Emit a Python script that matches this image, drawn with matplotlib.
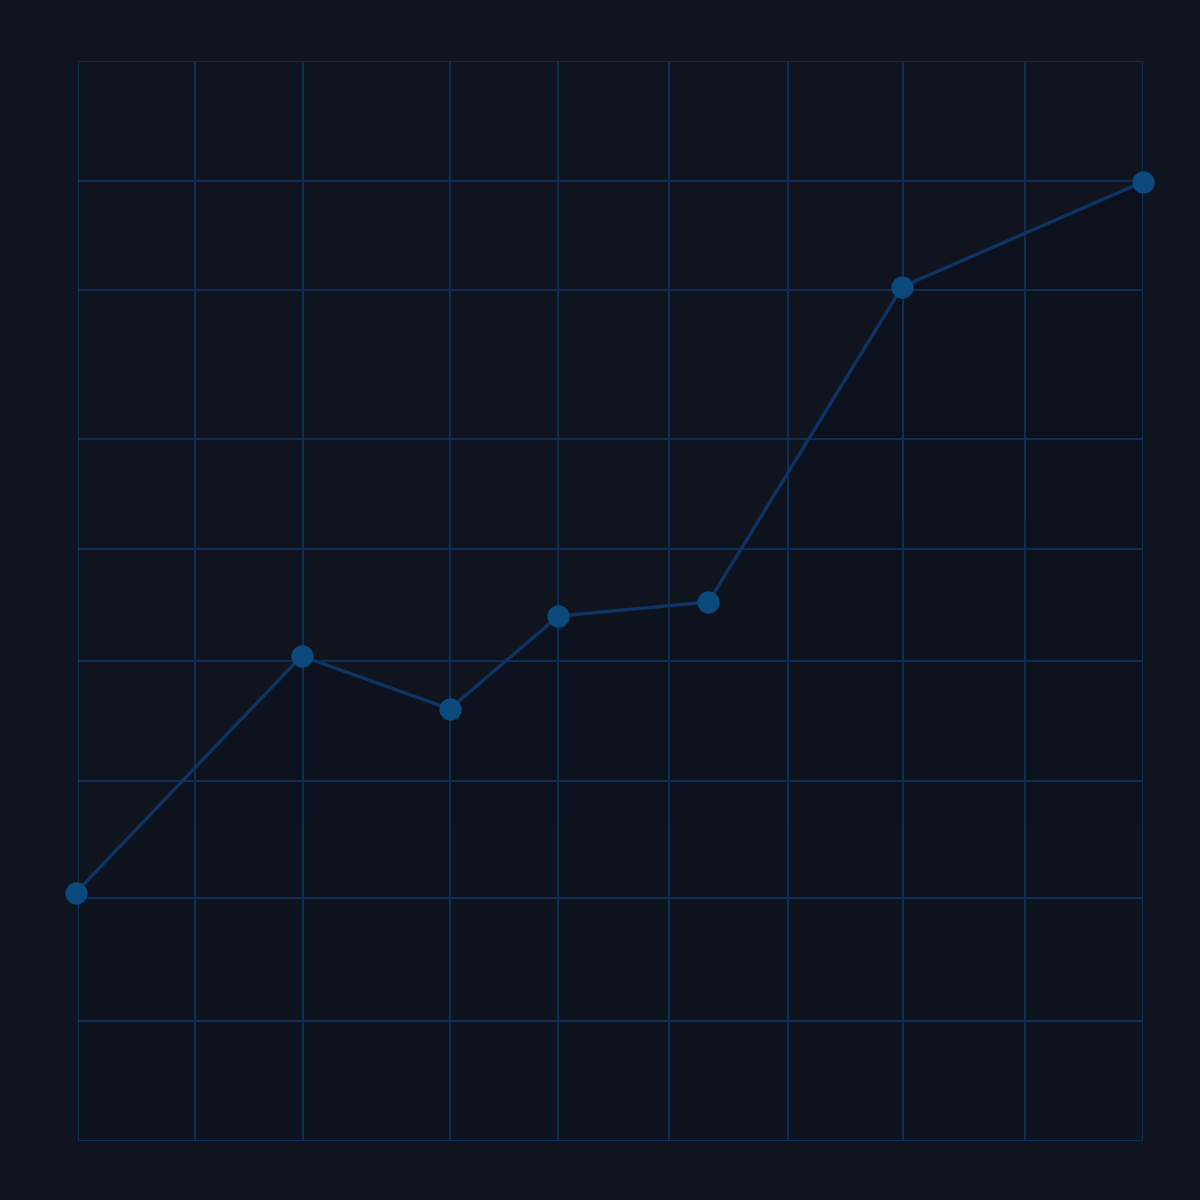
import numpy as np
import matplotlib
matplotlib.use("Agg")
import matplotlib.pyplot as plt
from matplotlib.colors import LinearSegmentedColormap

# data (axis range 0..100 both ways)
x_vals = [-0.2, 21.0, 34.9, 45.1, 59.2, 77.4, 100]
y_vals = [23.0, 44.9, 40.0, 48.6, 49.9, 79.1, 88.8]

# irregular grid positions
x_grid = [0, 11.0, 21.1, 34.9, 45.1, 55.5, 66.7, 77.5, 88.9, 100]
y_grid = [0, 11.1, 22.5, 33.3, 44.4, 54.8, 65.0, 78.8, 88.9, 100]

BG = "#10141f"
GRID = "#102f57"
LINE = "#0e3466"
DOT = "#0c4a7e"

fig = plt.figure(figsize=(12, 12), dpi=100, facecolor=BG)
ax = fig.add_axes([0.065, 0.0492, 0.8875, 0.9])
ax.set_facecolor(BG)
ax.set_xlim(0, 100)
ax.set_ylim(0, 100)

for gx in x_grid:
    ax.axvline(gx, color=GRID, lw=1.4, zorder=1)
for gy in y_grid:
    ax.axhline(gy, color=GRID, lw=1.4, zorder=1)

# soft shadow under the line
poly = ax.fill_between(x_vals, y_vals, 0, color="none", lw=0)
cmap = LinearSegmentedColormap.from_list("sh", [(0.04, 0.06, 0.11, 0.0), (0.04, 0.06, 0.11, 0.7)])
grad = np.linspace(0, 1, 256).reshape(-1, 1)
img = ax.imshow(grad, extent=[0, 100, 0, 100], origin="lower", cmap=cmap,
                aspect="auto", zorder=0.5)
path = poly.get_paths()[0]
img.set_clip_path(path, transform=ax.transData)

ax.plot(x_vals, y_vals, color=LINE, lw=2.4, zorder=3, solid_capstyle="round", clip_on=False)
ax.plot(x_vals, y_vals, "o", color=DOT, ms=16, mec="none", zorder=4, clip_on=False)

ax.set_xticks([])
ax.set_yticks([])
for s in ax.spines.values():
    s.set_visible(False)

fig.savefig("out.png", dpi=100, facecolor=BG)
